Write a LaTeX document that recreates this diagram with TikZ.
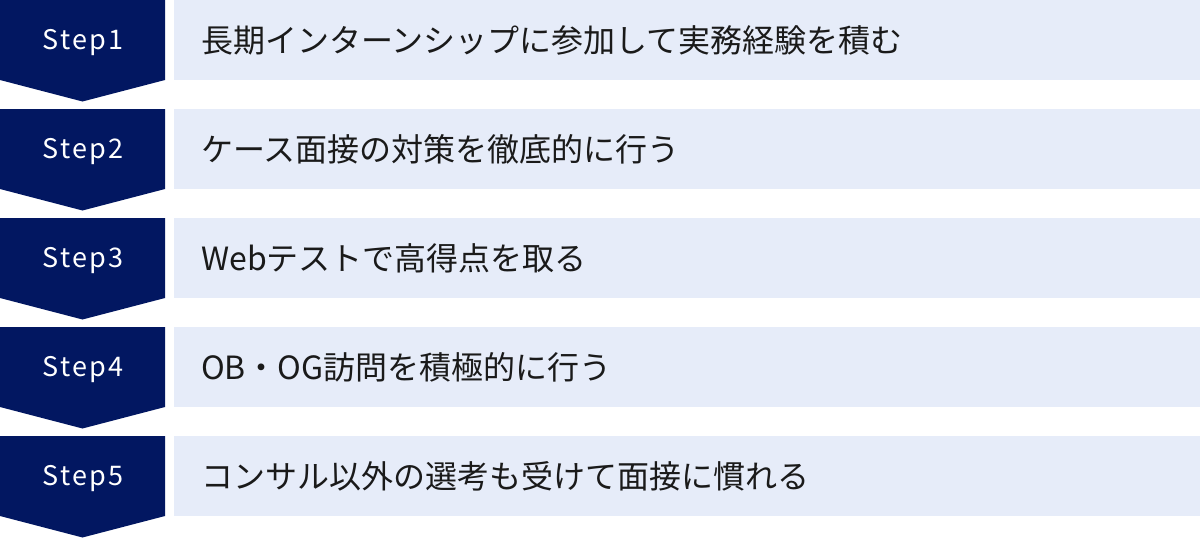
\documentclass[tikz,border=0pt]{standalone}
\usepackage{fontspec}
\setmainfont{Noto Sans CJK JP}
\newfontfamily\stepfont[LetterSpace=8]{Noto Sans CJK JP}
\definecolor{navy}{RGB}{2,23,97}
\definecolor{pale}{RGB}{230,236,249}
\definecolor{ink}{RGB}{26,26,26}
\begin{document}
\begin{tikzpicture}[x=1pt,y=-1pt,
  stepbox/.style={fill=navy,draw=none},
  itembox/.style={fill=pale,draw=none},
  steplabel/.style={text=white,font=\stepfont\fontsize{27}{30}\selectfont,anchor=center,inner sep=0pt},
  itemlabel/.style={text=ink,font=\fontsize{32}{36}\selectfont,anchor=west,inner sep=0pt}]
\useasboundingbox (0,0) rectangle (1200,538);
\foreach \i/\t in {1/長期インターンシップに参加して実務経験を積む,
                   2/ケース面接の対策を徹底的に行う,
                   3/Webテストで高得点を取る,
                   4/OB・OG訪問を積極的に行う,
                   5/コンサル以外の選考も受けて面接に慣れる}{
  \pgfmathsetmacro{\yy}{(\i-1)*109}
  \fill[stepbox] (0,\yy) -- (165,\yy) -- (165,\yy+80) -- (82.5,\yy+101.5) -- (0,\yy+80) -- cycle;
  \fill[itembox] (174,\yy) rectangle (1200,\yy+80);
  \node[steplabel] (s\i) at (83,\yy+43) {Step\i};
  \node[itemlabel] (t\i) at (201,\yy+40) {\t};
}
\end{tikzpicture}
\end{document}
